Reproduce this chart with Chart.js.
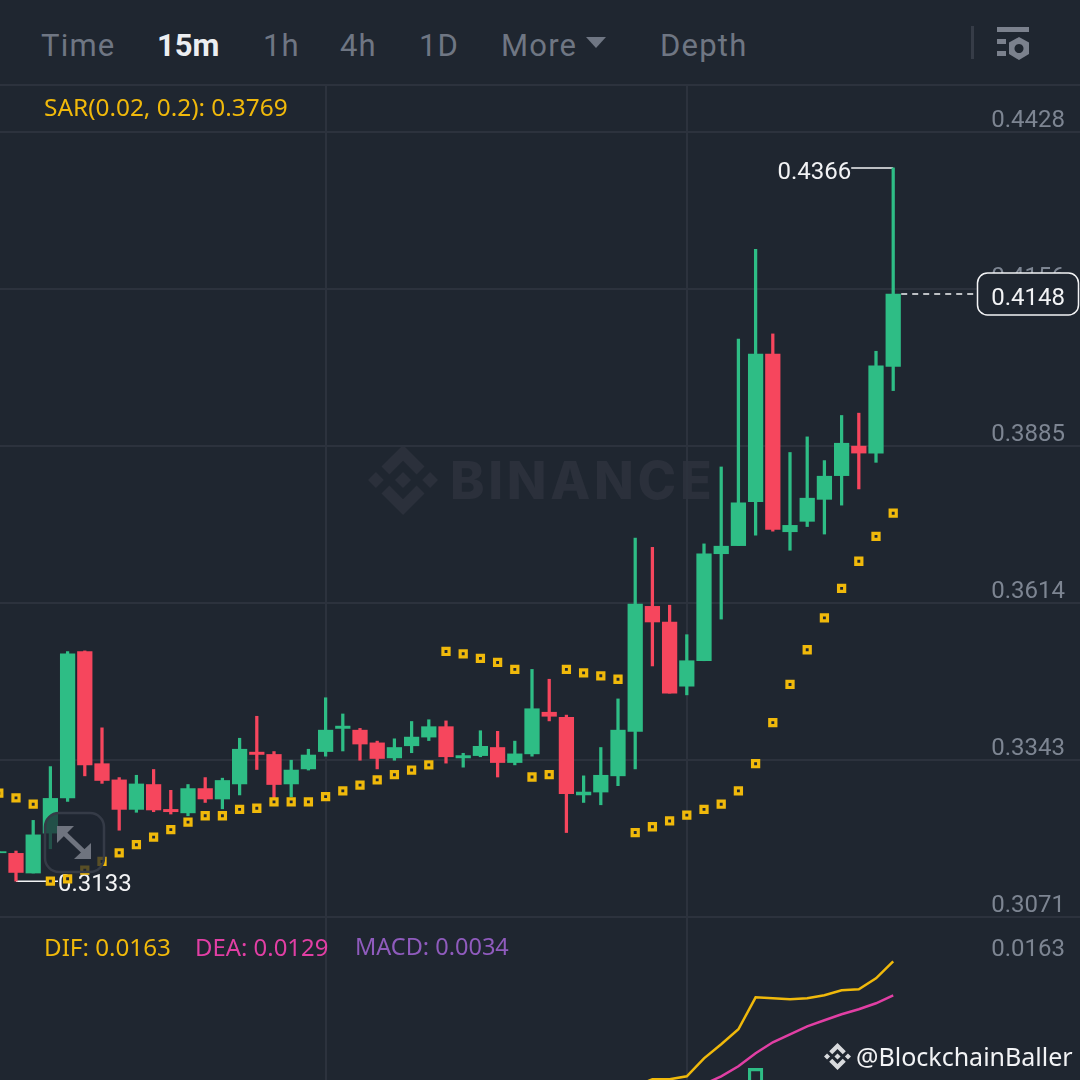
<!DOCTYPE html>
<html>
<head>
<meta charset="utf-8">
<title>15m chart</title>
<script src="https://cdn.jsdelivr.net/npm/chart.js@4/dist/chart.umd.min.js"></script>
<style>
    html, body { margin: 0; padding: 0; background: #1f2630; }
    #page { position: relative; width: 1080px; height: 1080px; overflow: hidden; background: #1f2630; font-family: "Noto Sans", sans-serif; }
    #chart { position: absolute; left: 0; top: 85px; z-index: 2; }
    .abs { position: absolute; white-space: nowrap; line-height: 1; }
    .tab { top: 30px; font-size: 31px; color: #6f7683; font-family: Roboto, sans-serif; letter-spacing: 1.2px; z-index: 3; }
    .legend { font-size: 24.4px; z-index: 3; }
    #header-line { position: absolute; left: 0; top: 84px; width: 1080px; height: 2px; background: #2c323d; z-index: 3; }
    #mark { position: absolute; left: 368px; top: 445px; z-index: 1; }
    #mark-text { left: 450px; top: 449px; font: 800 52px Inter, sans-serif; color: #2b303b; letter-spacing: 3.7px; z-index: 1; }
    #button { position: absolute; left: 43px; top: 811px; z-index: 4; }
    #credit-logo { position: absolute; left: 824px; top: 1043px; z-index: 4; }
    #credit { left: 856px; top: 1044px; font-size: 25px; color: #f2f3f5; z-index: 4; }
    #gear { position: absolute; left: 965px; top: 20px; z-index: 3; }
</style>
</head>
<body>
<div id="page">
    <div class="abs tab" style="left:41px">Time</div>
    <div class="abs tab" style="left:157px;color:#eceef1;font-weight:700;letter-spacing:0">15m</div>
    <div class="abs tab" style="left:263px">1h</div>
    <div class="abs tab" style="left:340px">4h</div>
    <div class="abs tab" style="left:419px">1D</div>
    <div class="abs tab" style="left:501px">More</div>
    <svg class="abs" style="left:586px;top:37px;z-index:3" width="20" height="12"><path d="M0 0H20L10 11Z" fill="#6f7683"/></svg>
    <div class="abs tab" style="left:660px">Depth</div>
    <svg id="gear" width="70" height="46">
        <rect x="6" y="6" width="3" height="33" fill="#363c47"/>
        <g fill="#7b818d">
            <rect x="32" y="7" width="32" height="5"/>
            <rect x="32" y="19" width="9" height="5"/>
            <rect x="32" y="31" width="9" height="5"/>
            <path fill-rule="evenodd" d="M54 17L64 22.5V34L54 40L44 34V22.5ZM54 24a4.5 4.5 0 1 0 .01 0Z"/>
        </g>
    </svg>
    <div id="header-line"></div>

    <svg id="mark" width="70" height="70" viewBox="0 0 126.61 126.61">
        <path fill="#2b303b" d="M38.73 53.2l24.59-24.58 24.6 24.6 14.3-14.31L63.32 0 24.42 38.9l14.31 14.3zM0 63.31l14.3-14.31 14.31 14.31-14.31 14.3zM38.73 73.41l24.59 24.59 24.6-24.6 14.31 14.29-38.9 38.91-38.91-38.88-.02-.02zM98 63.31l14.3-14.31 14.31 14.3-14.31 14.32zM77.83 63.3l-14.51-14.52-10.73 10.73-1.24 1.23-2.54 2.54 14.51 14.5 14.51-14.47z"/>
    </svg>
    <div class="abs" id="mark-text">BINANCE</div>

    <canvas id="chart" width="1080" height="995"></canvas>

    <div class="abs legend" style="left:44px;top:95px;color:#f0b90b">SAR(0.02, 0.2): 0.3769</div>
    <div class="abs legend" style="left:44px;top:935px;color:#f0b90b;font-size:24.2px">DIF: 0.0163</div>
    <div class="abs legend" style="left:195px;top:935px;color:#e13fa4;font-size:23.9px">DEA: 0.0129</div>
    <div class="abs legend" style="left:355px;top:935px;color:#8f5bbd;font-size:23.5px">MACD: 0.0034</div>

    <svg id="button" width="63" height="64">
        <rect x="2" y="2" width="59" height="59" rx="14" fill="rgba(31,38,48,0.72)" stroke="#353b47" stroke-width="2.5"/>
        <g fill="#6f747f" stroke="#6f747f">
            <path stroke="none" d="M14 15H31L14 32Z"/>
            <path stroke="none" d="M48 48H31L48 32Z"/>
            <line x1="20" y1="21" x2="42" y2="42" stroke-width="5"/>
        </g>
    </svg>
    <svg id="credit-logo" width="27" height="27" viewBox="0 0 126.61 126.61">
        <path fill="#d8dadd" d="M38.73 53.2l24.59-24.58 24.6 24.6 14.3-14.31L63.32 0 24.42 38.9l14.31 14.3zM0 63.31l14.3-14.31 14.31 14.31-14.31 14.3zM38.73 73.41l24.59 24.59 24.6-24.6 14.31 14.29-38.9 38.91-38.91-38.88-.02-.02zM98 63.31l14.3-14.31 14.31 14.3-14.31 14.32zM77.83 63.3l-14.51-14.52-10.73 10.73-1.24 1.23-2.54 2.54 14.51 14.5 14.51-14.47z"/>
    </svg>
    <div class="abs" id="credit">@BlockchainBaller</div>
</div>

<script>
// Candles (one entry per 15m bar)
const candleOpen = [0.3182, 0.3181, 0.3147, 0.3216, 0.3277, 0.3530, 0.3336, 0.3308, 0.3257, 0.3300,
    0.3257, 0.3251, 0.3293, 0.3275, 0.3301, 0.3356, 0.3352, 0.3301, 0.3327, 0.3357,
    0.3397, 0.3394, 0.3372, 0.3346, 0.3367, 0.3382, 0.3400, 0.3346, 0.3350, 0.3364,
    0.3338, 0.3353, 0.3425, 0.3416, 0.3282, 0.3287, 0.3315, 0.3392, 0.3608, 0.3581,
    0.3470, 0.3514, 0.3699, 0.3713, 0.3789, 0.4044, 0.3737, 0.3755, 0.3793, 0.3834,
    0.3885, 0.3873, 0.4023];
const candleHigh = [0.3184, 0.3185, 0.3238, 0.3331, 0.3530, 0.3531, 0.3398, 0.3312, 0.3316, 0.3326,
    0.3290, 0.3300, 0.3312, 0.3311, 0.3380, 0.3418, 0.3357, 0.3342, 0.3361, 0.3450,
    0.3422, 0.3397, 0.3375, 0.3379, 0.3409, 0.3412, 0.3410, 0.3354, 0.3393, 0.3392,
    0.3375, 0.3499, 0.3482, 0.3420, 0.3315, 0.3364, 0.3448, 0.3726, 0.3710, 0.3610,
    0.3559, 0.3716, 0.3849, 0.4070, 0.4225, 0.4079, 0.3874, 0.3901, 0.3860, 0.3938,
    0.3942, 0.4049, 0.4366];
const candleLow = [0.3182, 0.3133, 0.3147, 0.3189, 0.3271, 0.3315, 0.3302, 0.3221, 0.3252, 0.3253,
    0.3249, 0.3246, 0.3269, 0.3258, 0.3282, 0.3326, 0.3273, 0.3279, 0.3325, 0.3349,
    0.3358, 0.3342, 0.3327, 0.3342, 0.3355, 0.3376, 0.3337, 0.3330, 0.3348, 0.3313,
    0.3334, 0.3349, 0.3410, 0.3217, 0.3269, 0.3265, 0.3298, 0.3327, 0.3505, 0.3458,
    0.3455, 0.3514, 0.3586, 0.3713, 0.3731, 0.3738, 0.3705, 0.3746, 0.3733, 0.3783,
    0.3811, 0.3857, 0.3981];
const candleClose = [0.3184, 0.3148, 0.3213, 0.3276, 0.3526, 0.3334, 0.3307, 0.3257, 0.3301, 0.3256,
    0.3253, 0.3293, 0.3275, 0.3307, 0.3361, 0.3352, 0.3300, 0.3325, 0.3351, 0.3394,
    0.3401, 0.3370, 0.3345, 0.3364, 0.3382, 0.3400, 0.3348, 0.3350, 0.3366, 0.3338,
    0.3353, 0.3431, 0.3418, 0.3284, 0.3287, 0.3316, 0.3394, 0.3612, 0.3581, 0.3458,
    0.3514, 0.3699, 0.3712, 0.3787, 0.4044, 0.3741, 0.3748, 0.3795, 0.3833, 0.3890,
    0.3873, 0.4024, 0.4148];

// Parabolic SAR dots
const sarValues = [0.3285, 0.3277, 0.3266, 0.3133, 0.3137, 0.3152, 0.3167, 0.3182, 0.3196, 0.3209,
    0.3222, 0.3235, 0.3246, 0.3246, 0.3257, 0.3259, 0.3270, 0.3270, 0.3270, 0.3279,
    0.3289, 0.3299, 0.3308, 0.3317, 0.3325, 0.3334, 0.3530, 0.3526, 0.3518, 0.3511,
    0.3499, 0.3313, 0.3317, 0.3499, 0.3493, 0.3488, 0.3482, 0.3217, 0.3227, 0.3237,
    0.3247, 0.3257, 0.3266, 0.3289, 0.3336, 0.3407, 0.3473, 0.3533, 0.3588, 0.3639,
    0.3686, 0.3729, 0.3769];

// MACD panel, only the end of it is on screen
const difStart = 37;
const difValues = [0.0038, 0.0045, 0.0045, 0.0048, 0.0066, 0.0080, 0.0095, 0.0127, 0.0126, 0.0125,
    0.0126, 0.0129, 0.0134, 0.0135, 0.0146, 0.0163];
const deaStart = 41;
const deaValues = [0.0040, 0.0048, 0.0058, 0.0071, 0.0082, 0.0090, 0.0098, 0.0104, 0.0110, 0.0115,
    0.0121, 0.0129];
const histStart = 41;
const histValues = [0.0026, 0.0032, 0.0037, 0.0056, 0.0043, 0.0035, 0.0028, 0.0025, 0.0024, 0.0020,
    0.0025, 0.0034];

// Axis ticks
const priceTicks = [0.4428, 0.4156, 0.3885, 0.3614, 0.3343, 0.3071];
const macdTicks = [0.0163];
const timeTicks = [19, 40];

const GREEN = '#2ebd85';
const RED = '#f6465d';
const YELLOW = '#f0b90b';
const PINK = '#e13fa4';
const GRID = '#2c323d';
const BG = '#1f2630';
const TICK = '#7d8592';
const WHITE = '#f2f3f5';

const candleColor = candleOpen.map((o, i) => candleClose[i] >= o ? GREEN : RED);

// High / low callouts and the last price box
const priceMarks = {
    id: 'priceMarks',
    beforeDatasetsDraw(chart) {
        const { ctx, scales: { x, y } } = chart;
        const hi = candleHigh.indexOf(Math.max(...candleHigh));
        const lo = candleLow.indexOf(Math.min(...candleLow));
        ctx.save();
        ctx.strokeStyle = WHITE;
        ctx.fillStyle = WHITE;
        ctx.lineWidth = 1.5;
        ctx.font = '24px Roboto';
        ctx.textBaseline = 'middle';

        const hiX = x.getPixelForValue(hi), hiY = y.getPixelForValue(candleHigh[hi]);
        ctx.beginPath();
        ctx.moveTo(hiX, hiY);
        ctx.lineTo(hiX - 42, hiY);
        ctx.stroke();
        ctx.textAlign = 'right';
        ctx.fillText(candleHigh[hi].toFixed(4), hiX - 42, hiY + 5);

        const loX = x.getPixelForValue(lo), loY = y.getPixelForValue(candleLow[lo]);
        ctx.beginPath();
        ctx.moveTo(loX, loY);
        ctx.lineTo(loX + 42, loY);
        ctx.stroke();
        ctx.textAlign = 'left';
        ctx.fillText(candleLow[lo].toFixed(4), loX + 42, loY + 4);
        ctx.restore();
    },
    afterDatasetsDraw(chart) {
        const { ctx, scales: { x, y } } = chart;
        const last = candleClose.length - 1;
        const lastY = y.getPixelForValue(candleClose[last]);
        ctx.save();
        ctx.strokeStyle = WHITE;
        ctx.lineWidth = 1.5;
        ctx.setLineDash([6, 5]);
        ctx.beginPath();
        ctx.moveTo(x.getPixelForValue(last) + 8, lastY);
        ctx.lineTo(977, lastY);
        ctx.stroke();
        ctx.setLineDash([]);
        ctx.beginPath();
        ctx.roundRect(977.5, lastY - 21, 101, 42, 10);
        ctx.fillStyle = BG;
        ctx.fill();
        ctx.stroke();
        ctx.fillStyle = WHITE;
        ctx.font = '24px Roboto';
        ctx.textAlign = 'right';
        ctx.textBaseline = 'middle';
        ctx.fillText(candleClose[last].toFixed(4), 1065, lastY + 5);
        ctx.restore();
    }
};

function setTicks(values) {
    return scale => {
        scale.ticks = values.map(value => ({ value }));
    };
}

// Axes sit on top of the plot, so they must not take any room from it
function noRoom(scale) {
    if (scale.isHorizontal()) {
        scale.height = 0;
    } else {
        scale.width = 0;
    }
    scale.paddingTop = 0;
    scale.paddingBottom = 0;
    scale.paddingLeft = 0;
    scale.paddingRight = 0;
}

const chart = new Chart(document.getElementById('chart').getContext('2d'), {
    type: 'bar',
    data: {
        datasets: [
            {
                label: 'SAR',
                type: 'line',
                yAxisID: 'y',
                data: sarValues.map((v, i) => ({ x: i, y: v })),
                showLine: false,
                pointStyle: 'rect',
                pointRadius: 4.3,
                pointBorderWidth: 3.2,
                pointBackgroundColor: '#1f2630',
                pointBorderColor: YELLOW,
                order: 1
            },
            {
                label: 'Body',
                yAxisID: 'y',
                data: candleOpen.map((o, i) => ({ x: i, y: [o, candleClose[i]] })),
                backgroundColor: candleColor,
                barThickness: 14.6,
                grouped: false,
                order: 2
            },
            {
                label: 'Wick',
                yAxisID: 'y',
                data: candleLow.map((l, i) => ({ x: i, y: [l, candleHigh[i]] })),
                backgroundColor: candleColor,
                barThickness: 2.6,
                grouped: false,
                order: 3
            },
            {
                label: 'DIF',
                type: 'line',
                yAxisID: 'macd',
                data: difValues.map((v, i) => ({ x: difStart + i, y: v })),
                borderColor: YELLOW,
                borderWidth: 2.5,
                pointRadius: 0,
                order: 4
            },
            {
                label: 'DEA',
                type: 'line',
                yAxisID: 'macd',
                data: deaValues.map((v, i) => ({ x: deaStart + i, y: v })),
                borderColor: PINK,
                borderWidth: 2.5,
                pointRadius: 0,
                order: 4
            },
            {
                label: 'MACD',
                yAxisID: 'macd',
                data: histValues.map((v, i) => ({ x: histStart + i, y: v })),
                backgroundColor: 'rgba(0, 0, 0, 0)',
                borderColor: GREEN,
                borderWidth: 2.5,
                borderSkipped: false,
                barThickness: 14.6,
                grouped: false,
                order: 5
            }
        ]
    },
    options: {
        responsive: false,
        animation: false,
        devicePixelRatio: 1,
        layout: { padding: 0, autoPadding: false },
        plugins: { legend: { display: false }, tooltip: { enabled: false } },
        scales: {
            x: {
                type: 'linear',
                offset: false,
                min: 0.0698,
                max: 62.86,
                afterBuildTicks: setTicks(timeTicks),
                afterFit: noRoom,
                grid: { color: GRID, lineWidth: 2, drawTicks: false, offset: false },
                border: { display: false },
                ticks: { display: false }
            },
            y: {
                position: 'right',
                min: 0.27892,
                max: 0.45093,
                afterBuildTicks: setTicks(priceTicks),
                afterFit: noRoom,
                grid: { color: GRID, lineWidth: 2, drawTicks: false },
                border: { display: false },
                ticks: {
                    mirror: true,
                    padding: -15,
                    labelOffset: -11,
                    color: TICK,
                    font: { family: 'Roboto', size: 24 },
                    callback: v => v.toFixed(4)
                }
            },
            macd: {
                position: 'right',
                min: 0.00443,
                max: 0.10393,
                afterBuildTicks: setTicks(macdTicks),
                afterFit: noRoom,
                grid: { display: false, drawTicks: false },
                border: { display: false },
                ticks: {
                    mirror: true,
                    padding: -15,
                    labelOffset: -11,
                    color: TICK,
                    font: { family: 'Roboto', size: 24 },
                    callback: v => v.toFixed(4)
                }
            }
        }
    },
    plugins: [priceMarks]
});
</script>
</body>
</html>
